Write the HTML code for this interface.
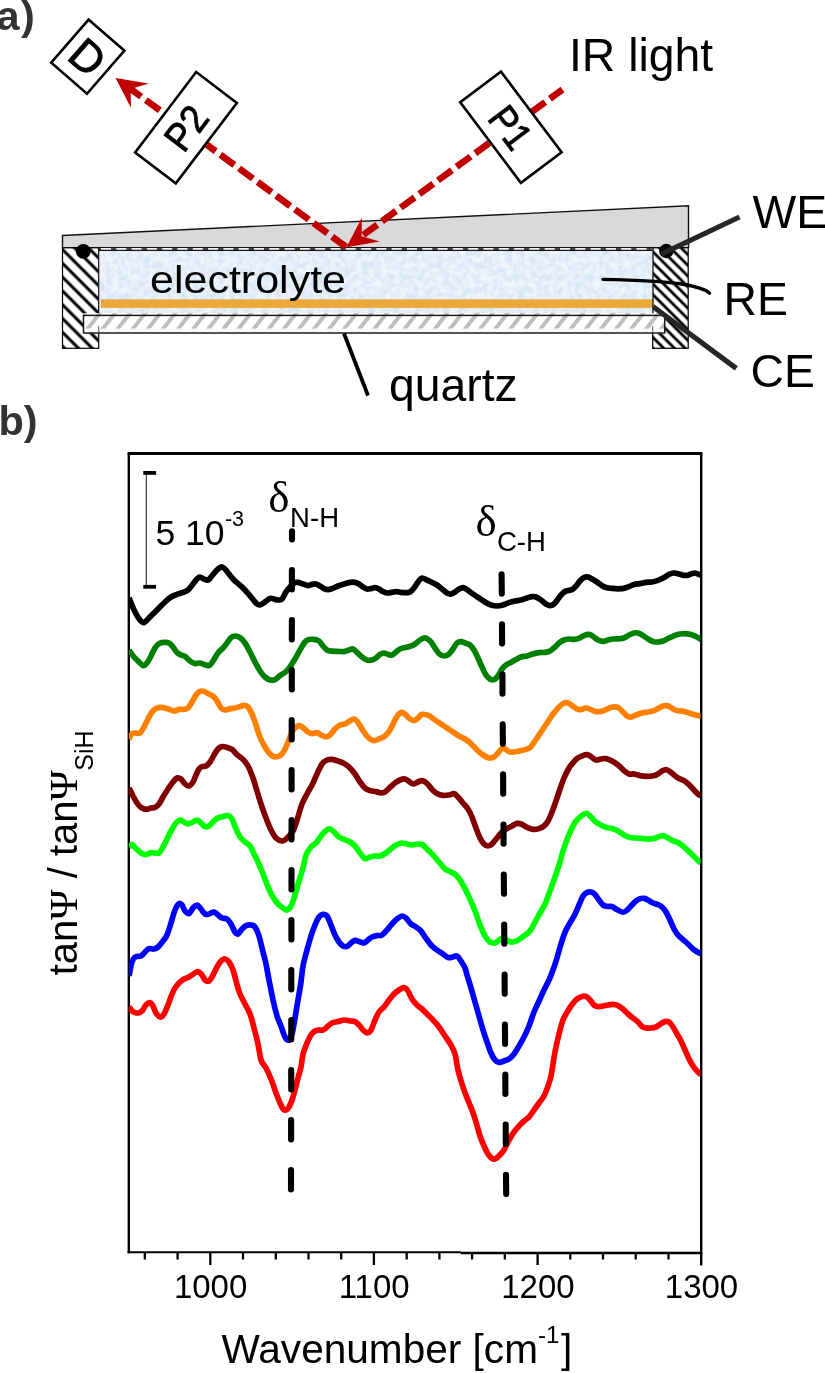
<!DOCTYPE html>
<html lang="en"><head><meta charset="utf-8"><title>Figure</title>
<style>html,body{margin:0;padding:0;background:#fff}svg{display:block}text{font-family:"Liberation Sans",Arial,sans-serif;fill:#000}.ser{font-family:"Liberation Serif","DejaVu Serif",serif}</style></head><body>
<svg width="825" height="1373" viewBox="0 0 825 1373">
<defs>
<pattern id="hb" patternUnits="userSpaceOnUse" width="9.76" height="9.76" patternTransform="translate(62.4,249.4) rotate(45)"><rect width="9.76" height="9.76" fill="#fff"/><rect y="0" width="9.76" height="1.5" fill="#000"/><rect y="8.26" width="9.76" height="1.5" fill="#000"/></pattern>
<pattern id="hb2" patternUnits="userSpaceOnUse" width="7.57" height="7.57" patternTransform="translate(652.7,251.6) rotate(45)"><rect width="7.57" height="7.57" fill="#fff"/><rect y="0" width="7.57" height="1.4" fill="#000"/><rect y="6.17" width="7.57" height="1.4" fill="#000"/></pattern>
<pattern id="hg" patternUnits="userSpaceOnUse" width="11.9" height="10" patternTransform="translate(9.8,0) rotate(38)"><rect width="11.9" height="10" fill="#fff"/><rect x="0" width="3.9" height="10" fill="#bcbcbc"/></pattern>
<filter id="tex" x="0" y="0" width="100%" height="100%"><feTurbulence type="fractalNoise" baseFrequency="0.16" numOctaves="3" seed="4" result="n"/><feColorMatrix in="n" type="matrix" values="0 0 0 0 0.86  0 0 0 0 0.91  0 0 0 0 0.97  2.2 0 0 0 -0.55" result="c"/><feComposite in="c" in2="SourceGraphic" operator="atop"/></filter>
</defs>
<rect width="825" height="1373" fill="#fff"/>
<g id="panel-a">
<text x="-3.5" y="29.5" font-size="41.5" font-weight="bold" style="fill:#333">a<tspan dx="1.3">)</tspan></text>
<polygon points="62.5,235.5 688.5,205.8 688.5,247.6 62.5,247.6" fill="#d9d9d9" stroke="#111" stroke-width="1.4" stroke-linejoin="miter"/>
<rect x="62.5" y="247.8" width="36.2" height="100.5" fill="url(#hb)" stroke="#000" stroke-width="1.2"/>
<rect x="652.7" y="247.8" width="35.5" height="100.5" fill="url(#hb2)" stroke="#000" stroke-width="1.2"/>
<rect x="98.7" y="250.3" width="554.3" height="63" fill="#eef5fd"/>
<rect x="98.7" y="250.3" width="554.3" height="63" fill="#d6e4f5" filter="url(#tex)"/>
<line x1="98.7" y1="249.1" x2="652.7" y2="249.1" stroke="#fff" stroke-width="1.6"/>
<line x1="98.7" y1="249.1" x2="652.7" y2="249.1" stroke="#111" stroke-width="1.5" stroke-dasharray="5.3 10" stroke-dashoffset="3"/>
<line x1="98.7" y1="250.4" x2="652.7" y2="250.4" stroke="#111" stroke-width="1.1"/>
<rect x="100.8" y="299.3" width="553" height="8.6" fill="#eaa83b"/>
<rect x="83.5" y="313.2" width="581.2" height="20" fill="#fff"/>
<rect x="83.5" y="313.2" width="581.2" height="15.4" fill="url(#hg)"/>
<rect x="83.5" y="315.4" width="581.2" height="17.6" fill="none" stroke="#1a1a1a" stroke-width="1.5"/>
<line x1="98.7" y1="326" x2="98.7" y2="333.2" stroke="#333" stroke-width="0.8"/>
<line x1="652.7" y1="326" x2="652.7" y2="333.2" stroke="#333" stroke-width="0.8"/>
<line x1="98.7" y1="248" x2="98.7" y2="313.2" stroke="#111" stroke-width="1.1"/>
<line x1="652.9" y1="248" x2="652.9" y2="313.2" stroke="#111" stroke-width="1.1"/>
<circle cx="83.3" cy="251.3" r="7.4" fill="#000"/>
<circle cx="666.3" cy="251" r="7.2" fill="#000"/>
<line x1="661.5" y1="254" x2="739.5" y2="217" stroke="#262626" stroke-width="5.2"/>
<line x1="653.6" y1="307" x2="736.3" y2="368.3" stroke="#262626" stroke-width="5.2"/>
<path d="M603,279.4 C630,280 660,280.8 680,283.8 C695,286.3 706,289 709.5,293.3" fill="none" stroke="#000" stroke-width="3.4" stroke-linecap="round"/>
<line x1="344" y1="333.5" x2="368" y2="395.5" stroke="#000" stroke-width="3.8"/>
<line x1="562.5" y1="89.5" x2="357.8" y2="238.9" stroke="#c00000" stroke-width="6.7" stroke-dasharray="17.3 5.8" stroke-dashoffset="1.7"/>
<polygon points="346.5,247.2 361.9,217.4 361.6,236.2 379.6,241.6" fill="#c00000"/>
<line x1="346.5" y1="247.2" x2="126.9" y2="86.2" stroke="#c00000" stroke-width="6.7" stroke-dasharray="17.3 5.8" stroke-dashoffset="22.6"/>
<polygon points="115.6,77.9 148.7,83.5 130.7,89.0 130.9,107.7" fill="#c00000"/>
<g transform="translate(87.8,56.7) rotate(41)"><rect x="-23.7" y="-28.5" width="47.4" height="57" fill="#fff" stroke="#000" stroke-width="2.6"/><text x="0" y="15.8" font-size="44" text-anchor="middle" stroke="#000" stroke-width="0.9">D</text></g>
<g transform="translate(186.0,127.7) rotate(-52.8)"><rect x="-50.5" y="-25.55" width="101" height="51.1" fill="#fff" stroke="#000" stroke-width="2.6"/><text x="0" y="14.2" font-size="39.5" text-anchor="middle" stroke="#000" stroke-width="0.9" textLength="44.5" lengthAdjust="spacingAndGlyphs">P2</text></g>
<g transform="translate(510.9,127.25) rotate(53)"><rect x="-50.4" y="-25.5" width="100.8" height="51" fill="#fff" stroke="#000" stroke-width="2.6"/><text x="0" y="14.2" font-size="39.5" text-anchor="middle" stroke="#000" stroke-width="0.9" textLength="43" lengthAdjust="spacingAndGlyphs">P1</text></g>
<text x="569" y="70.7" font-size="46.3">IR light</text>
<text x="752.5" y="227.6" font-size="46.3">WE</text>
<text x="723.5" y="315.1" font-size="46.3">RE</text>
<text x="750.5" y="386.7" font-size="46.3">CE</text>
<text x="389" y="400.8" font-size="46.3">quartz</text>
<text x="150" y="293" font-size="39.5" textLength="196" lengthAdjust="spacingAndGlyphs">electrolyte</text>
</g>
<g id="panel-b">
<text x="-1.5" y="435.2" font-size="41.5" font-weight="bold" style="fill:#333">b)</text>
<clipPath id="cp"><rect x="128.8" y="453.6" width="571.8000000000001" height="798.9"/></clipPath>
<g stroke="#000" stroke-linecap="butt"><line x1="127.60000000000001" y1="453.6" x2="702.4" y2="453.6" stroke-width="3"/><line x1="128.8" y1="453.6" x2="128.8" y2="1253.2" stroke-width="2.4"/><line x1="701.2" y1="453.6" x2="701.2" y2="1265.5" stroke-width="2.4"/><line x1="127.60000000000001" y1="1252.2" x2="460.8" y2="1252.2" stroke-width="2"/><line x1="460.6" y1="1253.1" x2="702.4" y2="1253.1" stroke-width="2.5"/></g>
<g clip-path="url(#cp)" fill="none" stroke-width="5.7" stroke-linejoin="round" stroke-linecap="butt">
<path d="M129.0,598.0C130.0,600.3 133.2,608.3 135.0,612.0C136.8,615.7 138.5,618.2 140.0,620.0C141.5,621.8 142.5,622.9 144.0,622.6C145.5,622.3 147.2,619.8 149.0,618.0C150.8,616.2 153.2,613.8 155.0,612.0C156.8,610.2 158.3,608.7 160.0,607.0C161.7,605.3 163.2,603.7 165.0,602.0C166.8,600.3 169.0,598.3 171.0,597.0C173.0,595.7 175.0,595.2 177.0,594.4C179.0,593.6 181.2,593.1 183.0,592.4C184.8,591.7 186.3,591.4 188.0,590.0C189.7,588.6 191.5,585.8 193.0,584.0C194.5,582.2 195.8,580.2 197.0,579.0C198.2,577.8 198.8,577.0 200.0,577.0C201.2,577.0 202.7,578.5 204.0,579.0C205.3,579.5 206.8,580.3 208.0,580.0C209.2,579.7 209.7,578.5 211.0,577.0C212.3,575.5 214.3,572.7 216.0,571.0C217.7,569.3 219.5,567.3 221.0,567.0C222.5,566.7 223.7,567.8 225.0,569.0C226.3,570.2 227.5,572.2 229.0,574.0C230.5,575.8 232.3,578.3 234.0,580.0C235.7,581.7 237.2,582.7 239.0,584.4C240.8,586.1 243.0,587.9 245.0,590.0C247.0,592.1 249.2,594.8 251.0,597.0C252.8,599.2 254.5,601.7 256.0,603.0C257.5,604.3 258.5,605.2 260.0,605.0C261.5,604.8 263.3,603.1 265.0,602.0C266.7,600.9 268.5,598.9 270.0,598.4C271.5,597.9 272.7,598.7 274.0,599.0C275.3,599.3 276.7,600.0 278.0,600.0C279.3,600.0 280.7,600.3 282.0,599.0C283.3,597.7 284.7,594.0 286.0,592.0C287.3,590.0 288.7,588.5 290.0,587.0C291.3,585.5 292.7,583.8 294.0,583.0C295.3,582.2 296.5,582.2 298.0,582.4C299.5,582.6 301.3,583.5 303.0,584.0C304.7,584.5 306.5,585.5 308.0,585.6C309.5,585.7 310.7,584.7 312.0,584.4C313.3,584.1 314.7,583.7 316.0,584.0C317.3,584.3 318.7,585.2 320.0,586.0C321.3,586.8 322.7,588.0 324.0,588.6C325.3,589.2 326.7,589.6 328.0,589.6C329.3,589.6 330.3,589.2 332.0,588.6C333.7,588.0 336.0,586.8 338.0,586.0C340.0,585.2 342.0,584.6 344.0,584.0C346.0,583.4 348.2,582.7 350.0,582.4C351.8,582.1 353.5,582.1 355.0,582.4C356.5,582.7 357.7,583.2 359.0,584.0C360.3,584.8 361.7,586.2 363.0,587.0C364.3,587.8 365.7,588.7 367.0,589.0C368.3,589.3 369.7,588.8 371.0,588.6C372.3,588.4 373.7,587.5 375.0,587.6C376.3,587.7 377.7,588.3 379.0,589.0C380.3,589.7 381.7,590.9 383.0,591.6C384.3,592.3 385.5,592.9 387.0,593.0C388.5,593.1 390.5,592.6 392.0,592.4C393.5,592.2 394.5,591.6 396.0,591.6C397.5,591.6 399.3,592.2 401.0,592.4C402.7,592.6 404.5,592.7 406.0,592.6C407.5,592.5 408.7,592.8 410.0,592.0C411.3,591.2 412.7,589.7 414.0,588.0C415.3,586.3 416.7,583.7 418.0,582.0C419.3,580.3 420.5,578.3 422.0,578.0C423.5,577.7 425.3,579.3 427.0,580.0C428.7,580.7 430.3,581.6 432.0,582.4C433.7,583.2 435.3,583.9 437.0,585.0C438.7,586.1 440.3,587.7 442.0,589.0C443.7,590.3 445.5,592.2 447.0,593.0C448.5,593.8 449.7,594.2 451.0,594.0C452.3,593.8 453.7,592.8 455.0,592.0C456.3,591.2 457.7,589.7 459.0,589.0C460.3,588.3 461.7,587.5 463.0,587.6C464.3,587.7 465.3,588.5 467.0,589.6C468.7,590.7 471.0,592.6 473.0,594.0C475.0,595.4 477.0,596.7 479.0,598.0C481.0,599.3 483.0,600.8 485.0,602.0C487.0,603.2 489.0,604.3 491.0,605.0C493.0,605.7 495.0,606.0 497.0,606.0C499.0,606.0 501.0,605.6 503.0,605.0C505.0,604.4 507.0,603.3 509.0,602.6C511.0,601.9 513.0,601.4 515.0,601.0C517.0,600.6 519.0,600.5 521.0,600.0C523.0,599.5 525.2,598.6 527.0,598.0C528.8,597.4 530.5,596.8 532.0,596.6C533.5,596.4 534.5,596.4 536.0,597.0C537.5,597.6 539.3,598.8 541.0,600.0C542.7,601.2 544.5,603.1 546.0,604.0C547.5,604.9 548.7,605.6 550.0,605.6C551.3,605.6 552.7,605.1 554.0,604.0C555.3,602.9 556.7,600.7 558.0,599.0C559.3,597.3 560.7,595.3 562.0,594.0C563.3,592.7 564.3,591.7 566.0,591.0C567.7,590.3 570.3,590.4 572.0,589.6C573.7,588.8 574.7,587.4 576.0,586.0C577.3,584.6 578.7,582.4 580.0,581.0C581.3,579.6 582.7,578.3 584.0,577.6C585.3,576.9 586.7,576.8 588.0,577.0C589.3,577.2 590.5,578.2 592.0,579.0C593.5,579.8 595.3,580.9 597.0,582.0C598.7,583.1 600.5,584.7 602.0,585.6C603.5,586.5 604.3,587.1 606.0,587.6C607.7,588.1 610.0,588.2 612.0,588.4C614.0,588.6 616.0,588.8 618.0,588.8C620.0,588.8 622.2,588.8 624.0,588.4C625.8,588.0 627.3,587.3 629.0,586.6C630.7,585.9 632.2,584.9 634.0,584.4C635.8,583.9 638.0,583.9 640.0,583.6C642.0,583.3 644.0,582.7 646.0,582.4C648.0,582.1 650.0,582.3 652.0,582.0C654.0,581.7 656.0,581.1 658.0,580.4C660.0,579.7 662.2,578.6 664.0,577.6C665.8,576.6 667.3,575.2 669.0,574.4C670.7,573.6 672.3,573.1 674.0,573.0C675.7,572.9 677.5,573.6 679.0,574.0C680.5,574.4 681.7,575.0 683.0,575.2C684.3,575.4 685.7,575.6 687.0,575.4C688.3,575.2 689.7,574.4 691.0,574.0C692.3,573.6 693.7,572.9 695.0,573.0C696.3,573.1 698.0,574.0 699.0,574.4C700.0,574.8 700.7,575.4 701.0,575.6" stroke="#000000"/>
<path d="M129.0,650.0C129.8,651.2 132.3,655.0 134.0,657.0C135.7,659.0 137.5,660.6 139.0,662.0C140.5,663.4 141.7,665.4 143.0,665.6C144.3,665.8 145.7,664.6 147.0,663.0C148.3,661.4 149.7,658.5 151.0,656.0C152.3,653.5 153.7,650.1 155.0,648.0C156.3,645.9 157.5,644.5 159.0,643.6C160.5,642.7 162.3,642.5 164.0,642.4C165.7,642.3 167.5,642.2 169.0,643.0C170.5,643.8 171.7,645.4 173.0,647.0C174.3,648.6 175.7,651.1 177.0,652.4C178.3,653.7 179.7,654.3 181.0,655.0C182.3,655.7 183.5,655.4 185.0,656.4C186.5,657.4 188.3,659.8 190.0,661.0C191.7,662.2 193.3,663.3 195.0,663.6C196.7,663.9 198.5,662.9 200.0,663.0C201.5,663.1 202.5,664.0 204.0,664.4C205.5,664.8 207.5,666.2 209.0,665.6C210.5,665.0 211.5,663.1 213.0,661.0C214.5,658.9 216.3,655.2 218.0,653.0C219.7,650.8 221.5,649.7 223.0,648.0C224.5,646.3 225.7,644.7 227.0,643.0C228.3,641.3 229.7,638.8 231.0,637.6C232.3,636.4 233.5,636.0 235.0,636.0C236.5,636.0 238.3,636.4 240.0,637.6C241.7,638.8 243.3,640.6 245.0,643.0C246.7,645.4 248.3,648.8 250.0,652.0C251.7,655.2 253.3,658.8 255.0,662.0C256.7,665.2 258.3,668.5 260.0,671.0C261.7,673.5 263.3,675.5 265.0,677.0C266.7,678.5 268.3,679.6 270.0,680.0C271.7,680.4 273.3,680.3 275.0,679.6C276.7,678.9 278.2,676.9 280.0,675.6C281.8,674.3 284.3,673.0 286.0,671.6C287.7,670.2 288.5,669.1 290.0,667.0C291.5,664.9 293.3,661.8 295.0,659.0C296.7,656.2 298.3,652.8 300.0,650.0C301.7,647.2 303.5,643.7 305.0,642.0C306.5,640.3 307.5,640.0 309.0,639.6C310.5,639.2 312.3,639.2 314.0,639.4C315.7,639.6 317.5,639.9 319.0,641.0C320.5,642.1 321.7,644.5 323.0,646.0C324.3,647.5 325.5,649.1 327.0,650.0C328.5,650.9 330.2,651.0 332.0,651.2C333.8,651.4 336.0,651.3 338.0,651.4C340.0,651.5 342.2,651.8 344.0,651.6C345.8,651.4 347.5,650.4 349.0,650.0C350.5,649.6 351.7,648.6 353.0,649.0C354.3,649.4 355.5,651.1 357.0,652.4C358.5,653.7 360.3,655.7 362.0,657.0C363.7,658.3 365.3,659.5 367.0,660.0C368.7,660.5 370.5,660.3 372.0,660.0C373.5,659.7 374.7,658.9 376.0,658.0C377.3,657.1 378.7,655.2 380.0,654.4C381.3,653.6 382.7,653.0 384.0,653.0C385.3,653.0 386.7,654.1 388.0,654.4C389.3,654.7 390.7,655.4 392.0,655.0C393.3,654.6 394.7,653.0 396.0,652.0C397.3,651.0 398.5,649.7 400.0,649.0C401.5,648.3 403.3,648.0 405.0,647.6C406.7,647.2 408.3,647.0 410.0,646.4C411.7,645.8 413.3,645.1 415.0,644.0C416.7,642.9 418.5,641.0 420.0,640.0C421.5,639.0 422.8,638.2 424.0,638.0C425.2,637.8 425.8,637.9 427.0,638.6C428.2,639.3 429.7,640.4 431.0,642.0C432.3,643.6 433.7,646.1 435.0,648.0C436.3,649.9 437.5,652.3 439.0,653.6C440.5,654.9 442.3,655.9 444.0,656.0C445.7,656.1 447.5,655.2 449.0,654.0C450.5,652.8 451.7,650.8 453.0,649.0C454.3,647.2 455.7,644.2 457.0,643.0C458.3,641.8 459.7,641.6 461.0,641.6C462.3,641.6 463.5,642.4 465.0,643.0C466.5,643.6 468.5,643.8 470.0,645.0C471.5,646.2 472.7,647.8 474.0,650.0C475.3,652.2 476.7,655.2 478.0,658.0C479.3,660.8 480.7,664.2 482.0,667.0C483.3,669.8 484.7,673.0 486.0,675.0C487.3,677.0 488.7,678.2 490.0,679.0C491.3,679.8 492.7,680.1 494.0,679.6C495.3,679.1 496.7,677.8 498.0,676.0C499.3,674.2 500.7,670.8 502.0,669.0C503.3,667.2 504.5,666.1 506.0,665.0C507.5,663.9 509.3,663.3 511.0,662.4C512.7,661.5 514.3,660.5 516.0,659.6C517.7,658.7 519.2,657.6 521.0,657.0C522.8,656.4 525.0,656.5 527.0,656.0C529.0,655.5 531.0,654.6 533.0,654.0C535.0,653.4 537.0,652.9 539.0,652.6C541.0,652.3 543.2,652.7 545.0,652.4C546.8,652.1 548.3,651.9 550.0,651.0C551.7,650.1 553.5,648.3 555.0,647.0C556.5,645.7 557.5,644.2 559.0,643.0C560.5,641.8 562.3,640.7 564.0,640.0C565.7,639.3 567.3,639.1 569.0,639.0C570.7,638.9 572.3,639.5 574.0,639.4C575.7,639.3 577.3,639.0 579.0,638.4C580.7,637.8 582.3,636.3 584.0,635.6C585.7,634.9 587.5,634.3 589.0,634.4C590.5,634.5 591.5,635.5 593.0,636.4C594.5,637.3 596.3,639.2 598.0,640.0C599.7,640.8 601.3,641.4 603.0,641.4C604.7,641.4 606.3,640.4 608.0,640.0C609.7,639.6 611.2,639.2 613.0,639.0C614.8,638.8 617.2,639.0 619.0,638.8C620.8,638.6 622.3,638.6 624.0,638.0C625.7,637.4 627.3,635.8 629.0,635.0C630.7,634.2 632.5,633.3 634.0,633.0C635.5,632.7 636.5,632.6 638.0,633.0C639.5,633.4 641.3,634.6 643.0,635.6C644.7,636.6 646.3,638.0 648.0,639.0C649.7,640.0 651.3,640.9 653.0,641.4C654.7,641.9 656.3,642.1 658.0,642.0C659.7,641.9 661.2,641.7 663.0,641.0C664.8,640.3 667.0,638.9 669.0,638.0C671.0,637.1 673.2,636.1 675.0,635.4C676.8,634.7 678.2,634.3 680.0,634.0C681.8,633.7 684.2,633.7 686.0,633.8C687.8,633.9 689.3,633.9 691.0,634.4C692.7,634.9 694.3,635.7 696.0,636.6C697.7,637.5 700.2,639.1 701.0,639.6" stroke="#008000"/>
<path d="M129.0,739.0C129.5,738.1 130.8,734.6 132.0,733.6C133.2,732.6 134.7,733.1 136.0,733.0C137.3,732.9 138.7,734.0 140.0,733.0C141.3,732.0 142.7,729.3 144.0,727.0C145.3,724.7 146.7,721.5 148.0,719.0C149.3,716.5 150.7,713.8 152.0,712.0C153.3,710.2 154.5,709.2 156.0,708.4C157.5,707.6 159.2,707.4 161.0,707.4C162.8,707.4 165.2,708.1 167.0,708.6C168.8,709.1 170.7,710.0 172.0,710.4C173.3,710.8 173.8,711.2 175.0,711.0C176.2,710.8 177.5,709.7 179.0,709.4C180.5,709.1 182.5,709.6 184.0,709.4C185.5,709.2 186.7,709.2 188.0,708.0C189.3,706.8 190.7,704.2 192.0,702.0C193.3,699.8 194.7,696.8 196.0,695.0C197.3,693.2 198.7,692.0 200.0,691.4C201.3,690.8 202.7,691.0 204.0,691.4C205.3,691.8 206.5,692.8 208.0,693.6C209.5,694.4 211.5,694.8 213.0,696.0C214.5,697.2 215.7,699.0 217.0,701.0C218.3,703.0 219.7,706.5 221.0,708.0C222.3,709.5 223.5,709.9 225.0,710.0C226.5,710.1 228.3,708.9 230.0,708.6C231.7,708.3 233.3,708.3 235.0,708.0C236.7,707.7 238.5,707.0 240.0,706.6C241.5,706.2 242.7,705.3 244.0,705.4C245.3,705.5 246.7,705.6 248.0,707.0C249.3,708.4 250.7,711.0 252.0,714.0C253.3,717.0 254.7,721.2 256.0,725.0C257.3,728.8 258.5,733.3 260.0,737.0C261.5,740.7 263.3,744.2 265.0,747.0C266.7,749.8 268.3,752.3 270.0,754.0C271.7,755.7 273.0,757.0 275.0,757.0C277.0,757.0 280.2,755.7 282.0,754.0C283.8,752.3 284.7,749.8 286.0,747.0C287.3,744.2 288.7,740.0 290.0,737.0C291.3,734.0 292.5,730.9 294.0,729.0C295.5,727.1 297.5,725.8 299.0,725.6C300.5,725.4 301.5,726.5 303.0,727.6C304.5,728.7 306.5,731.0 308.0,732.0C309.5,733.0 310.5,733.5 312.0,733.6C313.5,733.7 315.5,732.4 317.0,732.6C318.5,732.8 319.5,734.3 321.0,735.0C322.5,735.7 324.5,737.0 326.0,737.0C327.5,737.0 328.5,736.3 330.0,735.0C331.5,733.7 333.3,730.7 335.0,729.0C336.7,727.3 338.3,725.8 340.0,725.0C341.7,724.2 343.5,724.6 345.0,724.0C346.5,723.4 347.5,722.4 349.0,721.6C350.5,720.8 352.5,718.9 354.0,719.0C355.5,719.1 356.7,720.7 358.0,722.4C359.3,724.1 360.7,726.9 362.0,729.0C363.3,731.1 364.7,733.3 366.0,735.0C367.3,736.7 368.7,738.1 370.0,739.0C371.3,739.9 372.5,740.6 374.0,740.6C375.5,740.6 377.2,739.8 379.0,739.0C380.8,738.2 383.2,737.5 385.0,736.0C386.8,734.5 388.5,732.3 390.0,730.0C391.5,727.7 392.7,724.5 394.0,722.0C395.3,719.5 396.7,716.6 398.0,715.0C399.3,713.4 400.7,712.4 402.0,712.4C403.3,712.4 404.7,713.9 406.0,715.0C407.3,716.1 408.7,718.1 410.0,719.0C411.3,719.9 412.7,720.8 414.0,720.6C415.3,720.4 416.7,719.0 418.0,718.0C419.3,717.0 420.2,714.8 422.0,714.4C423.8,714.0 426.8,714.7 429.0,715.6C431.2,716.5 433.0,718.6 435.0,720.0C437.0,721.4 439.0,722.7 441.0,724.0C443.0,725.3 445.0,726.7 447.0,728.0C449.0,729.3 451.0,730.7 453.0,732.0C455.0,733.3 457.0,734.8 459.0,736.0C461.0,737.2 463.0,737.7 465.0,739.0C467.0,740.3 469.0,741.8 471.0,743.6C473.0,745.4 475.0,748.1 477.0,750.0C479.0,751.9 481.0,753.7 483.0,755.0C485.0,756.3 487.2,757.7 489.0,758.0C490.8,758.3 492.5,757.8 494.0,757.0C495.5,756.2 496.7,754.4 498.0,753.0C499.3,751.6 500.8,749.1 502.0,748.4C503.2,747.7 503.8,748.5 505.0,749.0C506.2,749.5 507.5,751.1 509.0,751.6C510.5,752.1 512.3,752.1 514.0,752.0C515.7,751.9 517.2,751.4 519.0,751.0C520.8,750.6 523.2,750.2 525.0,749.6C526.8,749.0 528.3,749.0 530.0,747.6C531.7,746.2 533.2,743.6 535.0,741.0C536.8,738.4 539.0,735.0 541.0,732.0C543.0,729.0 545.0,726.0 547.0,723.0C549.0,720.0 551.0,716.7 553.0,714.0C555.0,711.3 557.2,708.8 559.0,707.0C560.8,705.2 562.5,703.7 564.0,703.0C565.5,702.3 566.7,702.6 568.0,703.0C569.3,703.4 570.5,704.6 572.0,705.6C573.5,706.6 575.5,708.3 577.0,709.0C578.5,709.7 579.5,709.8 581.0,709.6C582.5,709.4 584.3,708.0 586.0,708.0C587.7,708.0 589.3,709.0 591.0,709.6C592.7,710.2 594.3,711.3 596.0,711.6C597.7,711.9 599.3,711.7 601.0,711.4C602.7,711.1 604.3,710.3 606.0,709.6C607.7,708.9 609.5,707.9 611.0,707.4C612.5,706.9 613.7,706.7 615.0,706.8C616.3,706.9 617.7,707.1 619.0,708.0C620.3,708.9 621.7,710.7 623.0,712.0C624.3,713.3 625.7,715.2 627.0,716.0C628.3,716.8 629.5,717.2 631.0,717.0C632.5,716.8 634.2,715.7 636.0,715.0C637.8,714.3 640.0,713.5 642.0,713.0C644.0,712.5 646.0,712.4 648.0,712.0C650.0,711.6 652.2,711.3 654.0,710.6C655.8,709.9 657.5,708.8 659.0,708.0C660.5,707.2 661.7,706.4 663.0,706.0C664.3,705.6 665.7,705.3 667.0,705.6C668.3,705.9 669.5,706.8 671.0,707.6C672.5,708.4 674.3,709.8 676.0,710.4C677.7,711.0 679.3,710.7 681.0,711.0C682.7,711.3 684.2,711.5 686.0,712.0C687.8,712.5 690.0,713.4 692.0,714.0C694.0,714.6 696.5,715.2 698.0,715.6C699.5,716.0 700.5,716.3 701.0,716.4" stroke="#ff8000"/>
<path d="M129.0,788.0C129.7,789.3 131.7,793.5 133.0,796.0C134.3,798.5 135.7,801.1 137.0,803.0C138.3,804.9 139.5,806.3 141.0,807.4C142.5,808.5 144.3,809.3 146.0,809.4C147.7,809.5 149.5,808.3 151.0,808.0C152.5,807.7 153.7,808.1 155.0,807.4C156.3,806.7 157.7,805.7 159.0,804.0C160.3,802.3 161.5,799.5 163.0,797.0C164.5,794.5 166.3,791.5 168.0,789.0C169.7,786.5 171.5,783.8 173.0,782.0C174.5,780.2 175.7,778.5 177.0,778.0C178.3,777.5 179.7,778.0 181.0,779.0C182.3,780.0 183.7,782.8 185.0,784.0C186.3,785.2 187.7,786.3 189.0,786.0C190.3,785.7 191.8,783.8 193.0,782.0C194.2,780.2 195.0,777.2 196.0,775.0C197.0,772.8 198.0,770.4 199.0,769.0C200.0,767.6 200.8,767.1 202.0,766.6C203.2,766.1 204.7,766.8 206.0,766.0C207.3,765.2 208.7,763.8 210.0,762.0C211.3,760.2 212.7,757.2 214.0,755.0C215.3,752.8 216.7,750.4 218.0,749.0C219.3,747.6 220.5,746.9 222.0,746.6C223.5,746.3 225.3,746.9 227.0,747.4C228.7,747.9 230.3,748.2 232.0,749.4C233.7,750.6 235.2,752.9 237.0,754.6C238.8,756.3 241.2,757.5 243.0,759.4C244.8,761.3 246.3,762.9 248.0,766.0C249.7,769.1 251.5,773.8 253.0,778.0C254.5,782.2 255.7,786.7 257.0,791.0C258.3,795.3 259.5,799.5 261.0,804.0C262.5,808.5 264.3,813.7 266.0,818.0C267.7,822.3 269.3,826.7 271.0,830.0C272.7,833.3 274.2,836.2 276.0,838.0C277.8,839.8 280.3,840.8 282.0,841.0C283.7,841.2 284.7,840.0 286.0,839.0C287.3,838.0 288.7,836.7 290.0,835.0C291.3,833.3 292.7,832.0 294.0,829.0C295.3,826.0 296.7,821.2 298.0,817.0C299.3,812.8 300.5,807.8 302.0,804.0C303.5,800.2 305.3,797.2 307.0,794.0C308.7,790.8 310.3,788.3 312.0,785.0C313.7,781.7 315.3,777.5 317.0,774.0C318.7,770.5 320.3,766.3 322.0,764.0C323.7,761.7 325.3,760.8 327.0,760.0C328.7,759.2 330.2,759.2 332.0,759.4C333.8,759.6 336.0,760.3 338.0,761.0C340.0,761.7 342.0,762.2 344.0,763.4C346.0,764.6 348.2,766.2 350.0,768.0C351.8,769.8 353.3,771.7 355.0,774.0C356.7,776.3 358.3,779.7 360.0,782.0C361.7,784.3 363.3,786.6 365.0,788.0C366.7,789.4 368.2,790.0 370.0,790.6C371.8,791.2 374.2,791.2 376.0,791.6C377.8,792.0 379.5,792.9 381.0,793.0C382.5,793.1 383.5,792.9 385.0,792.0C386.5,791.1 388.3,788.9 390.0,787.4C391.7,785.9 393.3,784.2 395.0,783.0C396.7,781.8 398.3,780.7 400.0,780.0C401.7,779.3 403.5,778.8 405.0,779.0C406.5,779.2 407.7,780.6 409.0,781.4C410.3,782.2 411.5,783.9 413.0,784.0C414.5,784.1 416.5,782.6 418.0,782.0C419.5,781.4 420.5,780.4 422.0,780.6C423.5,780.8 425.3,781.9 427.0,783.4C428.7,784.9 430.3,787.7 432.0,789.4C433.7,791.1 435.2,792.4 437.0,793.4C438.8,794.4 441.0,795.1 443.0,795.4C445.0,795.7 447.2,795.3 449.0,795.0C450.8,794.7 452.5,793.3 454.0,793.6C455.5,793.9 456.5,795.4 458.0,797.0C459.5,798.6 461.3,801.0 463.0,803.0C464.7,805.0 466.5,806.7 468.0,809.0C469.5,811.3 470.7,813.8 472.0,817.0C473.3,820.2 474.7,824.5 476.0,828.0C477.3,831.5 478.7,835.3 480.0,838.0C481.3,840.7 482.7,842.7 484.0,844.0C485.3,845.3 486.7,846.0 488.0,846.0C489.3,846.0 490.5,845.3 492.0,844.0C493.5,842.7 495.3,840.0 497.0,838.0C498.7,836.0 500.3,833.6 502.0,832.0C503.7,830.4 505.3,829.6 507.0,828.6C508.7,827.6 510.3,826.9 512.0,826.0C513.7,825.1 515.3,823.7 517.0,823.4C518.7,823.1 520.3,823.7 522.0,824.4C523.7,825.1 525.2,826.6 527.0,827.4C528.8,828.2 531.0,829.2 533.0,829.4C535.0,829.6 537.2,829.2 539.0,828.6C540.8,828.0 542.5,827.3 544.0,826.0C545.5,824.7 546.7,823.3 548.0,821.0C549.3,818.7 550.7,815.3 552.0,812.0C553.3,808.7 554.7,804.8 556.0,801.0C557.3,797.2 558.7,792.8 560.0,789.0C561.3,785.2 562.5,781.5 564.0,778.0C565.5,774.5 567.7,770.3 569.0,768.0C570.3,765.7 570.7,765.6 572.0,764.0C573.3,762.4 575.3,759.9 577.0,758.6C578.7,757.3 580.3,756.7 582.0,756.0C583.7,755.3 585.5,754.5 587.0,754.6C588.5,754.7 589.5,755.7 591.0,756.6C592.5,757.5 594.3,759.6 596.0,760.0C597.7,760.4 599.3,759.2 601.0,759.0C602.7,758.8 604.2,758.3 606.0,758.6C607.8,758.9 610.0,759.9 612.0,761.0C614.0,762.1 616.0,763.4 618.0,765.0C620.0,766.6 622.2,769.1 624.0,770.6C625.8,772.1 627.3,773.4 629.0,774.0C630.7,774.6 632.2,773.7 634.0,774.0C635.8,774.3 638.0,775.2 640.0,775.6C642.0,776.0 644.0,776.3 646.0,776.4C648.0,776.5 650.2,776.3 652.0,776.0C653.8,775.7 655.3,775.4 657.0,774.6C658.7,773.8 660.5,771.8 662.0,771.0C663.5,770.2 664.7,769.5 666.0,769.6C667.3,769.7 668.7,770.7 670.0,771.6C671.3,772.5 672.5,773.8 674.0,775.0C675.5,776.2 677.3,777.7 679.0,778.6C680.7,779.5 682.3,779.6 684.0,780.6C685.7,781.6 687.3,783.0 689.0,784.6C690.7,786.2 692.5,788.4 694.0,790.0C695.5,791.6 696.8,793.0 698.0,794.0C699.2,795.0 700.5,795.7 701.0,796.0" stroke="#800000"/>
<path d="M129.0,847.0C129.5,846.6 130.8,844.3 132.0,844.6C133.2,844.9 134.5,847.2 136.0,848.6C137.5,850.0 139.3,852.0 141.0,853.0C142.7,854.0 144.3,854.7 146.0,854.6C147.7,854.5 149.5,852.9 151.0,852.6C152.5,852.3 153.7,852.9 155.0,853.0C156.3,853.1 157.7,854.0 159.0,853.0C160.3,852.0 161.7,849.3 163.0,847.0C164.3,844.7 165.7,841.7 167.0,839.0C168.3,836.3 169.5,833.7 171.0,831.0C172.5,828.3 174.5,824.8 176.0,823.0C177.5,821.2 178.7,820.2 180.0,820.0C181.3,819.8 182.7,821.3 184.0,822.0C185.3,822.7 186.5,824.0 188.0,824.0C189.5,824.0 191.5,822.7 193.0,822.0C194.5,821.3 195.7,819.8 197.0,820.0C198.3,820.2 199.7,821.9 201.0,823.0C202.3,824.1 203.7,826.1 205.0,826.6C206.3,827.1 207.5,826.9 209.0,826.0C210.5,825.1 212.3,822.4 214.0,821.0C215.7,819.6 217.3,818.2 219.0,817.4C220.7,816.6 222.5,816.7 224.0,816.4C225.5,816.1 226.7,815.0 228.0,815.4C229.3,815.8 230.7,816.7 232.0,819.0C233.3,821.3 234.7,826.0 236.0,829.0C237.3,832.0 238.5,834.8 240.0,837.0C241.5,839.2 243.3,840.5 245.0,842.0C246.7,843.5 248.5,844.0 250.0,846.0C251.5,848.0 252.7,851.3 254.0,854.0C255.3,856.7 256.5,858.7 258.0,862.0C259.5,865.3 261.3,869.8 263.0,874.0C264.7,878.2 266.3,883.2 268.0,887.0C269.7,890.8 271.3,894.2 273.0,897.0C274.7,899.8 276.3,902.2 278.0,904.0C279.7,905.8 281.5,907.0 283.0,908.0C284.5,909.0 285.7,910.3 287.0,910.0C288.3,909.7 289.7,908.5 291.0,906.0C292.3,903.5 293.7,899.2 295.0,895.0C296.3,890.8 297.7,885.5 299.0,881.0C300.3,876.5 301.8,872.3 303.0,868.0C304.2,863.7 304.7,858.5 306.0,855.0C307.3,851.5 309.3,849.0 311.0,847.0C312.7,845.0 314.3,844.8 316.0,843.0C317.7,841.2 319.3,838.1 321.0,836.0C322.7,833.9 324.5,831.8 326.0,830.6C327.5,829.4 328.7,828.8 330.0,829.0C331.3,829.2 332.5,830.7 334.0,832.0C335.5,833.3 337.3,835.8 339.0,837.0C340.7,838.2 342.2,838.6 344.0,839.4C345.8,840.2 348.2,840.9 350.0,842.0C351.8,843.1 353.3,844.2 355.0,846.0C356.7,847.8 358.3,850.9 360.0,853.0C361.7,855.1 363.3,857.9 365.0,858.6C366.7,859.3 368.3,857.4 370.0,857.0C371.7,856.6 373.3,856.2 375.0,856.0C376.7,855.8 378.2,856.5 380.0,856.0C381.8,855.5 384.0,854.3 386.0,853.0C388.0,851.7 390.2,849.4 392.0,848.0C393.8,846.6 395.3,845.4 397.0,844.6C398.7,843.8 400.3,843.1 402.0,843.0C403.7,842.9 405.3,843.7 407.0,844.0C408.7,844.3 410.2,845.0 412.0,845.0C413.8,845.0 416.2,844.0 418.0,844.0C419.8,844.0 421.8,844.5 423.0,845.0C424.2,845.5 423.7,845.7 425.0,847.0C426.3,848.3 429.7,851.7 431.0,853.0C432.3,854.3 431.7,853.5 433.0,855.0C434.3,856.5 437.0,859.7 439.0,862.0C441.0,864.3 443.0,867.3 445.0,869.0C447.0,870.7 449.0,870.8 451.0,872.0C453.0,873.2 455.0,873.8 457.0,876.0C459.0,878.2 461.0,881.5 463.0,885.0C465.0,888.5 467.0,892.7 469.0,897.0C471.0,901.3 473.2,906.3 475.0,911.0C476.8,915.7 478.3,920.8 480.0,925.0C481.7,929.2 483.3,933.2 485.0,936.0C486.7,938.8 488.3,940.8 490.0,942.0C491.7,943.2 493.5,943.3 495.0,943.0C496.5,942.7 497.7,940.8 499.0,940.0C500.3,939.2 501.5,937.8 503.0,938.0C504.5,938.2 506.3,940.3 508.0,941.0C509.7,941.7 511.3,942.2 513.0,942.0C514.7,941.8 516.2,941.0 518.0,940.0C519.8,939.0 522.0,937.5 524.0,936.0C526.0,934.5 528.2,933.3 530.0,931.0C531.8,928.7 533.3,925.0 535.0,922.0C536.7,919.0 538.3,916.0 540.0,913.0C541.7,910.0 543.3,907.7 545.0,904.0C546.7,900.3 548.3,895.5 550.0,891.0C551.7,886.5 553.3,881.8 555.0,877.0C556.7,872.2 558.7,866.3 560.0,862.0C561.3,857.7 561.7,855.2 563.0,851.0C564.3,846.8 566.2,841.5 568.0,837.0C569.8,832.5 572.2,827.2 574.0,824.0C575.8,820.8 577.5,819.6 579.0,818.0C580.5,816.4 581.7,815.4 583.0,814.6C584.3,813.8 585.7,813.0 587.0,813.4C588.3,813.8 589.5,815.6 591.0,817.0C592.5,818.4 594.3,820.7 596.0,822.0C597.7,823.3 599.3,824.1 601.0,825.0C602.7,825.9 604.2,826.8 606.0,827.4C607.8,828.0 610.0,828.0 612.0,828.6C614.0,829.2 616.0,829.9 618.0,831.0C620.0,832.1 622.0,833.9 624.0,835.0C626.0,836.1 628.0,837.1 630.0,837.6C632.0,838.1 634.0,837.9 636.0,838.0C638.0,838.1 640.0,838.2 642.0,838.4C644.0,838.6 646.0,839.0 648.0,839.0C650.0,839.0 652.2,839.0 654.0,838.6C655.8,838.2 657.5,837.1 659.0,836.6C660.5,836.1 661.7,835.5 663.0,835.6C664.3,835.7 665.5,836.6 667.0,837.4C668.5,838.2 670.2,839.5 672.0,840.4C673.8,841.3 676.2,841.7 678.0,842.6C679.8,843.5 681.3,844.7 683.0,846.0C684.7,847.3 686.3,849.0 688.0,850.6C689.7,852.2 691.3,853.7 693.0,855.4C694.7,857.1 696.7,859.3 698.0,860.6C699.3,861.9 700.5,862.6 701.0,863.0" stroke="#00ff00"/>
<path d="M129.0,976.0C129.4,974.0 130.7,966.8 131.4,964.0C132.1,961.2 132.6,960.2 133.4,959.0C134.2,957.8 134.7,957.1 136.0,956.6C137.3,956.1 139.5,956.8 141.0,956.0C142.5,955.2 143.7,953.2 145.0,952.0C146.3,950.8 147.5,949.1 149.0,948.6C150.5,948.1 152.5,949.3 154.0,949.0C155.5,948.7 156.5,948.3 158.0,947.0C159.5,945.7 161.5,943.0 163.0,941.0C164.5,939.0 165.7,938.0 167.0,935.0C168.3,932.0 169.7,927.2 171.0,923.0C172.3,918.8 173.7,913.2 175.0,910.0C176.3,906.8 177.8,904.4 179.0,903.6C180.2,902.8 181.0,903.8 182.0,905.0C183.0,906.2 183.8,909.6 185.0,911.0C186.2,912.4 187.7,914.1 189.0,913.6C190.3,913.1 191.7,909.4 193.0,908.0C194.3,906.6 195.7,904.8 197.0,905.0C198.3,905.2 199.7,907.5 201.0,909.0C202.3,910.5 203.7,913.2 205.0,914.0C206.3,914.8 207.5,914.3 209.0,914.0C210.5,913.7 212.5,911.8 214.0,912.0C215.5,912.2 216.7,914.0 218.0,915.0C219.3,916.0 220.5,917.3 222.0,918.0C223.5,918.7 225.5,918.0 227.0,919.0C228.5,920.0 229.7,921.8 231.0,924.0C232.3,926.2 233.8,930.3 235.0,932.0C236.2,933.7 236.8,934.5 238.0,934.0C239.2,933.5 240.7,930.4 242.0,929.0C243.3,927.6 244.5,926.3 246.0,925.6C247.5,924.9 249.5,924.8 251.0,925.0C252.5,925.2 253.7,925.2 255.0,927.0C256.3,928.8 257.7,931.8 259.0,936.0C260.3,940.2 261.8,947.3 263.0,952.0C264.2,956.7 265.0,959.3 266.0,964.0C267.0,968.7 267.8,974.0 269.0,980.0C270.2,986.0 271.7,994.0 273.0,1000.0C274.3,1006.0 275.7,1011.7 277.0,1016.0C278.3,1020.3 279.7,1022.5 281.0,1026.0C282.3,1029.5 283.7,1034.7 285.0,1037.0C286.3,1039.3 287.8,1040.5 289.0,1040.0C290.2,1039.5 291.0,1037.7 292.0,1034.0C293.0,1030.3 294.0,1023.7 295.0,1018.0C296.0,1012.3 297.0,1006.0 298.0,1000.0C299.0,994.0 300.2,987.7 301.0,982.0C301.8,976.3 302.0,971.3 303.0,966.0C304.0,960.7 305.7,955.0 307.0,950.0C308.3,945.0 309.7,940.2 311.0,936.0C312.3,931.8 313.7,928.2 315.0,925.0C316.3,921.8 317.7,918.8 319.0,917.0C320.3,915.2 321.7,914.6 323.0,914.4C324.3,914.2 325.7,914.2 327.0,916.0C328.3,917.8 329.7,921.8 331.0,925.0C332.3,928.2 333.7,932.2 335.0,935.0C336.3,937.8 337.7,940.2 339.0,942.0C340.3,943.8 341.7,945.3 343.0,946.0C344.3,946.7 345.7,946.9 347.0,946.4C348.3,945.9 349.7,944.0 351.0,943.0C352.3,942.0 353.7,940.6 355.0,940.4C356.3,940.2 357.5,941.2 359.0,941.6C360.5,942.0 362.5,943.3 364.0,943.0C365.5,942.7 366.7,941.0 368.0,940.0C369.3,939.0 370.5,937.7 372.0,937.0C373.5,936.3 375.3,935.9 377.0,935.6C378.7,935.3 380.3,935.9 382.0,935.0C383.7,934.1 385.3,931.8 387.0,930.0C388.7,928.2 390.3,925.8 392.0,924.0C393.7,922.2 395.3,920.3 397.0,919.0C398.7,917.7 400.5,916.2 402.0,916.0C403.5,915.8 404.5,916.7 406.0,918.0C407.5,919.3 409.3,922.5 411.0,924.0C412.7,925.5 414.3,925.8 416.0,927.0C417.7,928.2 419.5,929.3 421.0,931.0C422.5,932.7 423.3,934.7 425.0,937.0C426.7,939.3 429.0,942.8 431.0,945.0C433.0,947.2 435.0,948.5 437.0,950.0C439.0,951.5 441.2,952.7 443.0,954.0C444.8,955.3 446.3,957.1 448.0,957.6C449.7,958.1 451.5,957.3 453.0,957.0C454.5,956.7 455.7,955.3 457.0,956.0C458.3,956.7 459.7,959.0 461.0,961.0C462.3,963.0 464.0,965.7 465.0,968.0C466.0,970.3 466.0,971.7 467.0,975.0C468.0,978.3 469.7,983.5 471.0,988.0C472.3,992.5 473.7,997.3 475.0,1002.0C476.3,1006.7 477.7,1011.3 479.0,1016.0C480.3,1020.7 481.7,1025.7 483.0,1030.0C484.3,1034.3 485.7,1038.2 487.0,1042.0C488.3,1045.8 489.7,1050.0 491.0,1053.0C492.3,1056.0 493.7,1058.4 495.0,1060.0C496.3,1061.6 497.5,1062.2 499.0,1062.4C500.5,1062.6 502.3,1061.6 504.0,1061.0C505.7,1060.4 507.3,1060.2 509.0,1059.0C510.7,1057.8 512.3,1056.2 514.0,1054.0C515.7,1051.8 517.3,1048.8 519.0,1046.0C520.7,1043.2 522.3,1040.3 524.0,1037.0C525.7,1033.7 527.3,1030.2 529.0,1026.0C530.7,1021.8 532.3,1016.2 534.0,1012.0C535.7,1007.8 537.3,1004.7 539.0,1001.0C540.7,997.3 542.3,993.5 544.0,990.0C545.7,986.5 547.5,983.3 549.0,980.0C550.5,976.7 551.7,973.7 553.0,970.0C554.3,966.3 555.7,962.3 557.0,958.0C558.3,953.7 559.5,948.7 561.0,944.0C562.5,939.3 563.8,934.7 566.0,930.0C568.2,925.3 571.8,920.2 574.0,916.0C576.2,911.8 577.5,908.3 579.0,905.0C580.5,901.7 581.7,898.1 583.0,896.0C584.3,893.9 585.7,893.1 587.0,892.4C588.3,891.7 589.7,891.7 591.0,892.0C592.3,892.3 593.7,893.1 595.0,894.4C596.3,895.7 597.7,898.2 599.0,900.0C600.3,901.8 601.7,903.9 603.0,905.0C604.3,906.1 605.5,906.1 607.0,906.4C608.5,906.7 610.3,906.1 612.0,906.6C613.7,907.1 615.3,908.7 617.0,909.6C618.7,910.5 620.5,911.8 622.0,912.0C623.5,912.2 624.5,912.0 626.0,911.0C627.5,910.0 629.3,907.7 631.0,906.0C632.7,904.3 634.5,902.2 636.0,901.0C637.5,899.8 638.7,899.0 640.0,898.6C641.3,898.2 642.7,898.2 644.0,898.4C645.3,898.6 646.5,899.2 648.0,900.0C649.5,900.8 651.3,902.2 653.0,903.0C654.7,903.8 656.5,903.9 658.0,904.6C659.5,905.3 660.7,905.8 662.0,907.0C663.3,908.2 664.7,909.8 666.0,912.0C667.3,914.2 668.7,917.2 670.0,920.0C671.3,922.8 672.7,926.5 674.0,929.0C675.3,931.5 676.5,933.2 678.0,935.0C679.5,936.8 681.3,938.1 683.0,939.6C684.7,941.1 686.3,942.4 688.0,944.0C689.7,945.6 691.3,947.6 693.0,949.0C694.7,950.4 696.7,951.6 698.0,952.4C699.3,953.2 700.5,953.4 701.0,953.6" stroke="#0000ff"/>
<path d="M129.0,1007.0C129.7,1007.8 131.5,1010.6 133.0,1011.6C134.5,1012.6 136.5,1013.1 138.0,1013.0C139.5,1012.9 140.7,1012.3 142.0,1011.0C143.3,1009.7 144.7,1006.4 146.0,1005.0C147.3,1003.6 148.8,1002.4 150.0,1002.6C151.2,1002.8 152.0,1004.3 153.0,1006.0C154.0,1007.7 154.8,1011.2 156.0,1013.0C157.2,1014.8 158.7,1016.8 160.0,1017.0C161.3,1017.2 162.7,1016.0 164.0,1014.0C165.3,1012.0 166.7,1008.3 168.0,1005.0C169.3,1001.7 170.8,996.8 172.0,994.0C173.2,991.2 173.8,989.8 175.0,988.0C176.2,986.2 177.5,984.5 179.0,983.0C180.5,981.5 182.3,980.0 184.0,979.0C185.7,978.0 187.3,977.9 189.0,977.0C190.7,976.1 192.5,974.5 194.0,973.6C195.5,972.7 196.7,971.4 198.0,971.6C199.3,971.8 200.8,973.6 202.0,975.0C203.2,976.4 203.8,979.0 205.0,980.0C206.2,981.0 207.7,981.8 209.0,981.0C210.3,980.2 211.7,977.3 213.0,975.0C214.3,972.7 215.7,969.3 217.0,967.0C218.3,964.7 219.7,962.3 221.0,961.0C222.3,959.7 223.7,958.8 225.0,959.0C226.3,959.2 227.7,960.2 229.0,962.0C230.3,963.8 231.8,966.8 233.0,970.0C234.2,973.2 234.8,977.0 236.0,981.0C237.2,985.0 238.5,990.2 240.0,994.0C241.5,997.8 243.3,1000.7 245.0,1004.0C246.7,1007.3 248.5,1010.0 250.0,1014.0C251.5,1018.0 252.7,1023.0 254.0,1028.0C255.3,1033.0 256.8,1038.7 258.0,1044.0C259.2,1049.3 259.7,1056.0 261.0,1060.0C262.3,1064.0 264.3,1064.8 266.0,1068.0C267.7,1071.2 269.3,1074.8 271.0,1079.0C272.7,1083.2 274.5,1089.0 276.0,1093.0C277.5,1097.0 278.8,1100.3 280.0,1103.0C281.2,1105.7 282.0,1107.8 283.0,1109.0C284.0,1110.2 285.0,1110.3 286.0,1110.0C287.0,1109.7 288.0,1108.7 289.0,1107.0C290.0,1105.3 291.0,1102.8 292.0,1100.0C293.0,1097.2 294.0,1093.7 295.0,1090.0C296.0,1086.3 297.0,1081.8 298.0,1078.0C299.0,1074.2 300.2,1071.0 301.0,1067.0C301.8,1063.0 302.0,1058.0 303.0,1054.0C304.0,1050.0 305.7,1046.2 307.0,1043.0C308.3,1039.8 309.7,1037.0 311.0,1035.0C312.3,1033.0 313.7,1031.8 315.0,1031.0C316.3,1030.2 317.7,1030.2 319.0,1030.0C320.3,1029.8 321.7,1030.5 323.0,1030.0C324.3,1029.5 325.5,1028.2 327.0,1027.0C328.5,1025.8 330.2,1023.9 332.0,1023.0C333.8,1022.1 336.0,1022.1 338.0,1021.6C340.0,1021.1 342.0,1020.1 344.0,1020.0C346.0,1019.9 348.2,1020.7 350.0,1021.0C351.8,1021.3 353.5,1020.9 355.0,1021.6C356.5,1022.3 357.7,1023.6 359.0,1025.0C360.3,1026.4 361.7,1028.7 363.0,1030.0C364.3,1031.3 365.7,1033.0 367.0,1033.0C368.3,1033.0 369.7,1032.2 371.0,1030.0C372.3,1027.8 373.7,1023.0 375.0,1020.0C376.3,1017.0 377.5,1014.2 379.0,1012.0C380.5,1009.8 382.3,1009.0 384.0,1007.0C385.7,1005.0 387.3,1002.2 389.0,1000.0C390.7,997.8 392.3,995.7 394.0,994.0C395.7,992.3 397.3,991.1 399.0,990.0C400.7,988.9 402.5,987.4 404.0,987.6C405.5,987.8 406.7,989.1 408.0,991.0C409.3,992.9 410.5,996.7 412.0,999.0C413.5,1001.3 415.3,1003.3 417.0,1005.0C418.7,1006.7 420.3,1007.5 422.0,1009.0C423.7,1010.5 425.2,1012.2 427.0,1014.0C428.8,1015.8 431.0,1017.8 433.0,1020.0C435.0,1022.2 437.0,1024.3 439.0,1027.0C441.0,1029.7 443.0,1033.0 445.0,1036.0C447.0,1039.0 449.3,1042.0 451.0,1045.0C452.7,1048.0 453.8,1049.8 455.0,1054.0C456.2,1058.2 456.8,1065.0 458.0,1070.0C459.2,1075.0 460.5,1079.3 462.0,1084.0C463.5,1088.7 465.3,1093.7 467.0,1098.0C468.7,1102.3 470.5,1106.0 472.0,1110.0C473.5,1114.0 474.7,1117.7 476.0,1122.0C477.3,1126.3 478.7,1132.0 480.0,1136.0C481.3,1140.0 482.7,1143.0 484.0,1146.0C485.3,1149.0 486.7,1151.9 488.0,1154.0C489.3,1156.1 490.8,1157.6 492.0,1158.4C493.2,1159.2 493.8,1159.4 495.0,1159.0C496.2,1158.6 497.5,1157.5 499.0,1156.0C500.5,1154.5 502.3,1152.7 504.0,1150.0C505.7,1147.3 507.3,1143.0 509.0,1140.0C510.7,1137.0 512.3,1134.3 514.0,1132.0C515.7,1129.7 517.3,1127.8 519.0,1126.0C520.7,1124.2 522.3,1122.5 524.0,1121.0C525.7,1119.5 527.3,1118.8 529.0,1117.0C530.7,1115.2 532.3,1112.3 534.0,1110.0C535.7,1107.7 537.3,1105.3 539.0,1103.0C540.7,1100.7 542.5,1098.8 544.0,1096.0C545.5,1093.2 546.8,1089.3 548.0,1086.0C549.2,1082.7 549.8,1081.7 551.0,1076.0C552.2,1070.3 553.7,1059.0 555.0,1052.0C556.3,1045.0 557.7,1039.3 559.0,1034.0C560.3,1028.7 561.6,1023.7 563.0,1020.0C564.4,1016.3 565.9,1014.2 567.4,1011.6C568.9,1009.0 570.4,1006.5 572.0,1004.4C573.6,1002.3 575.3,1000.3 577.0,999.0C578.7,997.7 580.5,996.8 582.0,996.4C583.5,996.0 584.7,995.8 586.0,996.4C587.3,997.0 588.7,998.6 590.0,1000.0C591.3,1001.4 592.7,1003.9 594.0,1005.0C595.3,1006.1 596.5,1006.4 598.0,1006.6C599.5,1006.8 601.3,1006.3 603.0,1006.0C604.7,1005.7 606.3,1005.3 608.0,1005.0C609.7,1004.7 611.3,1004.3 613.0,1004.4C614.7,1004.5 616.3,1004.8 618.0,1005.6C619.7,1006.4 621.3,1007.6 623.0,1009.0C624.7,1010.4 626.3,1012.5 628.0,1014.0C629.7,1015.5 631.3,1016.7 633.0,1018.0C634.7,1019.3 636.5,1020.6 638.0,1022.0C639.5,1023.4 640.7,1025.4 642.0,1026.4C643.3,1027.4 644.5,1027.7 646.0,1028.0C647.5,1028.3 649.3,1028.2 651.0,1028.0C652.7,1027.8 654.3,1027.7 656.0,1027.0C657.7,1026.3 659.5,1024.5 661.0,1023.6C662.5,1022.7 663.7,1021.9 665.0,1021.6C666.3,1021.3 667.7,1021.1 669.0,1022.0C670.3,1022.9 671.7,1025.0 673.0,1027.0C674.3,1029.0 675.7,1031.7 677.0,1034.0C678.3,1036.3 679.7,1038.3 681.0,1041.0C682.3,1043.7 683.7,1047.0 685.0,1050.0C686.3,1053.0 687.7,1056.3 689.0,1059.0C690.3,1061.7 691.7,1064.0 693.0,1066.0C694.3,1068.0 695.7,1069.5 697.0,1071.0C698.3,1072.5 700.3,1074.3 701.0,1075.0" stroke="#ff0000"/>
</g>
<g stroke="#000" stroke-width="6.1" stroke-linecap="round">
<line x1="292.0" y1="531.3" x2="292.0" y2="539.4"/><line x1="291.9" y1="570.1" x2="291.9" y2="589.4"/><line x1="291.9" y1="620.1" x2="291.8" y2="639.4"/><line x1="291.8" y1="670.1" x2="291.8" y2="689.4"/><line x1="291.7" y1="720.1" x2="291.7" y2="739.4"/><line x1="291.6" y1="770.1" x2="291.6" y2="789.4"/><line x1="291.6" y1="820.1" x2="291.5" y2="839.4"/><line x1="291.5" y1="870.1" x2="291.5" y2="889.4"/><line x1="291.4" y1="920.1" x2="291.4" y2="939.4"/><line x1="291.3" y1="970.1" x2="291.3" y2="989.4"/><line x1="291.3" y1="1020.1" x2="291.2" y2="1039.4"/><line x1="291.2" y1="1070.1" x2="291.2" y2="1089.4"/><line x1="291.1" y1="1120.1" x2="291.1" y2="1139.4"/><line x1="291.0" y1="1170.1" x2="291.0" y2="1189.4"/>
<line x1="501.6" y1="574.3" x2="501.8" y2="593.6"/><line x1="502.0" y1="624.3" x2="502.1" y2="643.6"/><line x1="502.4" y1="674.4" x2="502.5" y2="693.7"/><line x1="502.7" y1="724.4" x2="502.9" y2="743.7"/><line x1="503.1" y1="774.4" x2="503.2" y2="793.7"/><line x1="503.5" y1="824.5" x2="503.6" y2="843.8"/><line x1="503.8" y1="874.5" x2="504.0" y2="893.8"/><line x1="504.2" y1="924.5" x2="504.3" y2="943.8"/><line x1="504.6" y1="974.5" x2="504.7" y2="993.8"/><line x1="504.9" y1="1024.6" x2="505.1" y2="1043.9"/><line x1="505.3" y1="1074.6" x2="505.4" y2="1093.9"/><line x1="505.7" y1="1124.6" x2="505.8" y2="1143.9"/><line x1="506.0" y1="1174.7" x2="506.2" y2="1194.0"/>
</g>
<g stroke="#000" stroke-width="2.3"><line x1="144.8" y1="1252.5" x2="144.8" y2="1259.5"/><line x1="177.6" y1="1252.5" x2="177.6" y2="1259.5"/><line x1="210.3" y1="1252.5" x2="210.3" y2="1265.0"/><line x1="243.0" y1="1252.5" x2="243.0" y2="1259.5"/><line x1="275.8" y1="1252.5" x2="275.8" y2="1259.5"/><line x1="308.5" y1="1252.5" x2="308.5" y2="1259.5"/><line x1="341.2" y1="1252.5" x2="341.2" y2="1259.5"/><line x1="373.9" y1="1252.5" x2="373.9" y2="1265.0"/><line x1="406.7" y1="1252.5" x2="406.7" y2="1259.5"/><line x1="439.4" y1="1252.5" x2="439.4" y2="1259.5"/><line x1="472.1" y1="1252.5" x2="472.1" y2="1259.5"/><line x1="504.8" y1="1252.5" x2="504.8" y2="1259.5"/><line x1="537.6" y1="1252.5" x2="537.6" y2="1265.0"/><line x1="570.3" y1="1252.5" x2="570.3" y2="1259.5"/><line x1="603.0" y1="1252.5" x2="603.0" y2="1259.5"/><line x1="635.7" y1="1252.5" x2="635.7" y2="1259.5"/><line x1="668.5" y1="1252.5" x2="668.5" y2="1259.5"/></g>
<text x="210.6" y="1297.7" font-size="33" text-anchor="middle">1000</text>
<text x="374.2" y="1297.7" font-size="33" text-anchor="middle">1100</text>
<text x="537.9" y="1297.7" font-size="33" text-anchor="middle">1200</text>
<text x="701.5" y="1297.7" font-size="33" text-anchor="middle">1300</text>
<text x="221.5" y="1362.5" font-size="40.6">Wavenumber [cm<tspan font-size="24" dy="-20">-1</tspan><tspan dy="20" dx="1.6">]</tspan></text>
<text transform="translate(77.2,975.3) rotate(-90)" font-size="40">tan<tspan class="ser" font-size="41">Ψ</tspan> / tan<tspan class="ser" font-size="41">Ψ</tspan><tspan font-size="25" dy="15.8" dx="-0.5">SiH</tspan></text>
<line x1="146.3" y1="472.5" x2="146.3" y2="587" stroke="#222" stroke-width="1.1"/>
<line x1="143.3" y1="472.9" x2="156.1" y2="472.9" stroke="#000" stroke-width="3.8"/>
<line x1="143.3" y1="586.8" x2="156.1" y2="586.8" stroke="#000" stroke-width="3.8"/>
<text x="155.5" y="545" font-size="35.5">5 10<tspan font-size="21.5" dy="-18.6" dx="0.3">-3</tspan></text>
<text x="268.3" y="511.8" font-size="45" class="ser">δ<tspan font-size="27.5" dy="15.1" dx="0.6" style="font-family:'Liberation Sans',Arial,sans-serif">N-H</tspan></text>
<text x="475.5" y="536.3" font-size="45" class="ser">δ<tspan font-size="27.5" dy="15.1" dx="0.2" style="font-family:'Liberation Sans',Arial,sans-serif">C-H</tspan></text>
</g>
</svg></body></html>
